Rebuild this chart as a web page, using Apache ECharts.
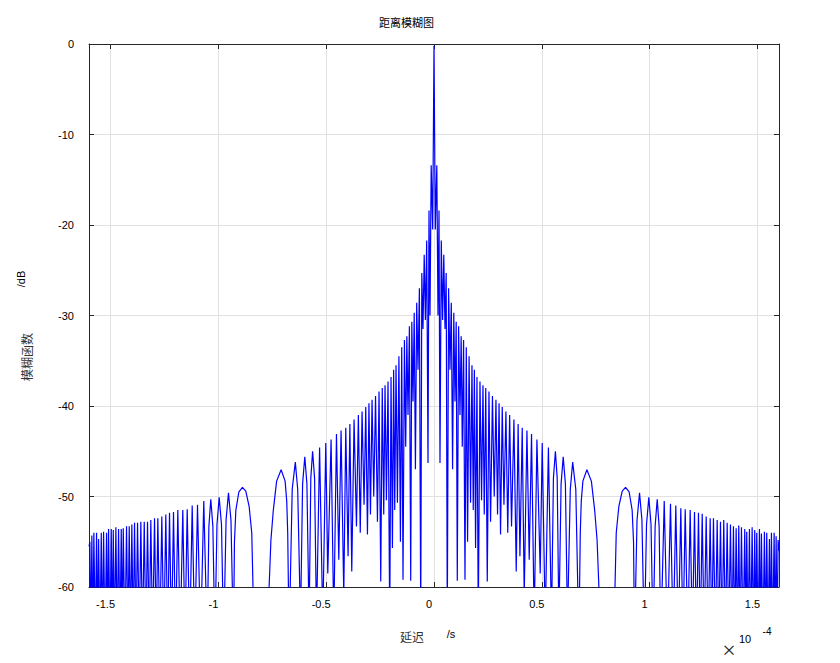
<!DOCTYPE html>
<html><head><meta charset="utf-8">
<script src="https://cdn.jsdelivr.net/npm/echarts@6/dist/echarts.min.js"></script>
<style>html,body{margin:0;padding:0;background:#fff}#c{width:840px;height:663px}</style>
</head><body><div id="c"></div>
<script>
const chartTitle = '距离模糊图';
const xName = '延迟';
const xUnit = '/s';
const yName = '模糊函数';
const yUnit = '/dB';
const xTicks = [-1.5, -1, -0.5, 0, 0.5, 1, 1.5];
const yTicks = [-60, -50, -40, -30, -20, -10, 0];

// delay (x 1e-4 s) and level (dB), from centre outwards, positive side
const delayPos = [0,0.0060,0.0130,0.0185,0.0232,0.0278,0.0338,0.0399,0.0454,0.0510,0.0565,0.0616,0.0677,0.0741,0.0802,0.0862,0.0918,0.0973,0.1029,0.1080,0.1140,0.1205,0.1260,0.1311,0.1372,0.1437,0.1497,0.1557,0.1627,0.1696,0.1761,0.1821,0.1872,0.1928,0.1993,0.2053,0.2132,0.2206,0.2271,0.2331,0.2400,0.2470,0.2549,0.2623,0.2711,0.2794,0.2873,0.2947,0.3017,0.3086,0.3165,0.3244,0.3336,0.3420,0.3508,0.3596,0.3707,0.3814,0.3902,0.3985,0.4092,0.4184,0.4310,0.4416,0.4523,0.4648,0.4773,0.4926,0.5019,0.5158,0.5306,0.5449,
0.5538,0.5630,0.5714,0.5792,0.5894,0.5992,0.6094,0.6191,0.6321,0.6432,0.6576,0.6719,0.6784,0.6830,0.6905,0.7090,0.7299,0.7451,0.7563,0.7655,0.7984,
0.8355,0.8452,0.8573,0.8730,0.8883,0.9050,0.9189,0.9254,0.9300,0.9416,0.9532,0.9643,0.9754,0.9856,0.9963,1.0065,1.0162,1.0255,1.0352,1.0440,1.0519,
1.0677,1.0825,1.0968,1.1094,1.1214,1.1330,1.1446,1.1548,1.1650,1.1770,1.1881,1.1983,1.2081,1.2173,1.2266,1.2349,1.2438,1.2530,1.2623,1.2715,1.2808,1.2882,1.2961,1.3049,1.3133,1.3207,1.3286,1.3360,1.3438,1.3517,1.3596,1.3670,1.3749,1.3818,1.3888,1.3948,1.4013,1.4073,1.4134,1.4194,1.4259,1.4333,1.4412,1.4458,1.4504,1.4564,1.4629,1.4690,1.4754,1.4815,1.4875,1.4921,1.4968,1.5028,1.5093,1.5139,1.5185,1.5255,1.5324,1.5375,1.5431,1.5491,1.5556,1.5602,1.5649,1.5709,1.5774,1.5820,1.5867,1.5913,1.5959,1.6000];
const levelPos = [-0.2,-20.5,-13.4,-30,-18.4,-46.3,-21.7,-30.5,-23.3,-31.5,-25.3,-64,-27,-36,-28.6,-47,-29.7,-39.5,-30.7,-59.3,-31.2,-41,-32.3,-44.5,-32.7,-59.2,-33.5,-55,-34.5,-50.7,-35.5,-51.5,-36,-55.7,-36.8,-64,-37.3,-50.4,-37.7,-52,-38.0,-59.4,-38.4,-52.8,-38.9,-50,-39.3,-52,-39.7,-54.2,-40.1,-50.9,-40.6,-54,-41.0,-53.3,-41.5,-58.3,-42.0,-56.6,-42.4,-61,-42.7,-57,-43.1,-64,-43.7,-58.5,-44.1,-64,-44.6,-64,
-48,-45.0,-48,-64,-48.6,-45.6,-48.6,-64,-49.2,-46.2,-49.2,-66,-54,-50.5,-48.3,-47.05,-48.3,-51.5,-54.8,-60.5,-75,
-64,-54.0,-51.1,-49.4,-49.0,-49.5,-51.5,-55,-66,-52.6,-49.6,-52.6,-66,-53.1,-50.1,-53.1,-66,-53.3,-50.3,-53.3,-66,
-50.5,-66,-50.8,-66,-51.0,-66,-51.3,-66,-51.4,-66,-51.5,-66,-51.7,-66,-51.8,-66,-51.9,-66,-52.2,-66,-52.4,-66,-52.4,-66,-52.6,-66,-52.8,-66,-52.6,-66,-52.9,-66,-53.1,-66,-53.3,-66,-53.5,-66,-53.2,-66,-53.4,-66,-53.6,-66,-53.9,-66,-53.6,-66,-53.4,-66,-53.7,-66,-54.0,-66,-53.6,-66,-54.1,-66,-53.9,-66,-54.0,-66,-54.7,-66,-54.0,-66,-54.0,-66,-54.4,-66,-54.8,-56];

// negative side, from centre outwards
const delayNeg = [-0.0060,-0.0130,-0.0185,-0.0232,-0.0278,-0.0338,-0.0399,-0.0454,-0.0510,-0.0565,-0.0616,-0.0677,-0.0741,-0.0802,-0.0862,-0.0918,-0.0973,-0.1029,-0.1080,-0.1140,-0.1205,-0.1260,-0.1311,-0.1372,-0.1437,-0.1497,-0.1557,-0.1627,-0.1696,-0.1761,-0.1821,-0.1872,-0.1928,-0.1993,-0.2053,-0.2132,-0.2206,-0.2271,-0.2331,-0.2400,-0.2470,-0.2549,-0.2623,-0.2711,-0.2794,-0.2873,-0.2947,-0.3017,-0.3086,-0.3165,-0.3244,-0.3336,-0.3420,-0.3508,-0.3596,-0.3707,-0.3814,-0.3902,-0.3985,-0.4092,-0.4184,-0.4310,-0.4416,-0.4523,-0.4648,-0.4773,-0.4926,-0.5019,-0.5158,-0.5306,-0.5449,
-0.5538,-0.5630,-0.5714,-0.5792,-0.5894,-0.5992,-0.6094,-0.6191,-0.6321,-0.6432,-0.6576,-0.6719,-0.6784,-0.6830,-0.6905,-0.7090,-0.7299,-0.7451,-0.7563,-0.7655,-0.7984,
-0.8355,-0.8452,-0.8573,-0.8730,-0.8883,-0.9050,-0.9189,-0.9254,-0.9300,-0.9416,-0.9532,-0.9643,-0.9754,-0.9856,-0.9963,-1.0065,-1.0162,-1.0255,-1.0352,-1.0440,-1.0519,
-1.0677,-1.0825,-1.0968,-1.1094,-1.1214,-1.1330,-1.1446,-1.1548,-1.1650,-1.1770,-1.1881,-1.1983,-1.2081,-1.2173,-1.2266,-1.2349,-1.2438,-1.2530,-1.2623,-1.2715,-1.2808,-1.2882,-1.2961,-1.3049,-1.3133,-1.3207,-1.3286,-1.3360,-1.3438,-1.3517,-1.3596,-1.3670,-1.3749,-1.3818,-1.3888,-1.3948,-1.4013,-1.4073,-1.4134,-1.4194,-1.4259,-1.4333,-1.4412,-1.4458,-1.4504,-1.4564,-1.4629,-1.4690,-1.4754,-1.4815,-1.4875,-1.4921,-1.4968,-1.5028,-1.5093,-1.5139,-1.5185,-1.5255,-1.5324,-1.5375,-1.5431,-1.5491,-1.5556,-1.5602,-1.5649,-1.5709,-1.5774,-1.5820,-1.5867,-1.5913,-1.5959,-1.6000];
const levelNeg = [-20.5,-13.4,-30,-18.4,-46.3,-21.7,-30.5,-23.3,-31.5,-25.3,-64,-27,-36,-28.6,-47,-29.7,-39.5,-30.7,-59.3,-31.2,-41,-32.3,-44.5,-32.7,-59.2,-33.5,-55,-34.5,-50.7,-35.5,-51.5,-36,-55.7,-36.8,-64,-37.3,-50.4,-37.7,-52,-38.0,-59.4,-38.4,-52.8,-38.9,-50,-39.3,-52,-39.7,-54.2,-40.1,-50.9,-40.6,-54,-41.0,-53.3,-41.5,-58.3,-42.0,-56.6,-42.4,-61,-42.7,-57,-43.1,-64,-43.7,-58.5,-44.1,-64,-44.6,-64,
-48,-45.0,-48,-64,-48.6,-45.6,-48.6,-64,-49.2,-46.2,-49.2,-66,-54,-50.5,-48.3,-47.05,-48.3,-51.5,-54.8,-60.5,-75,
-64,-54.0,-51.1,-49.4,-49.0,-49.5,-51.5,-55,-66,-52.6,-49.6,-52.6,-66,-53.1,-50.1,-53.1,-66,-53.3,-50.3,-53.3,-66,
-50.5,-66,-50.9,-66,-51.0,-66,-51.4,-66,-51.5,-66,-51.5,-66,-51.7,-66,-51.8,-66,-52.0,-66,-52.2,-66,-52.4,-66,-52.4,-66,-52.6,-66,-52.8,-66,-52.8,-66,-52.8,-66,-52.9,-66,-52.9,-66,-53.1,-66,-53.3,-66,-53.3,-66,-53.5,-66,-53.6,-66,-53.6,-66,-53.4,-66,-53.7,-66,-53.6,-66,-53.6,-66,-54.0,-66,-53.9,-66,-54.0,-66,-54.7,-66,-54.0,-66,-54.0,-66,-54.3,-66,-55.0,-55.5];

const data = [];
const nNeg = Math.min(delayNeg.length, levelNeg.length);
for (let i = nNeg - 1; i >= 0; i--) data.push([delayNeg[i], levelNeg[i]]);
const nPos = Math.min(delayPos.length, levelPos.length);
for (let i = 0; i < nPos; i++) data.push([delayPos[i], levelPos[i]]);

const chart = echarts.init(document.getElementById('c'), null, {renderer: 'svg'});
const axisColor = '#262626';
const gridColor = '#e1e1e1';
const latin = '"Liberation Sans", Arial, sans-serif';
const cjk = '"Noto Sans CJK SC", sans-serif';

function xAxisCfg(pos, showLabel) {
  return {
    type: 'value', min: -1.6, max: 1.6, position: pos,
    axisLine: {show: true, onZero: false, lineStyle: {color: axisColor, width: 1}},
    axisTick: {show: true, inside: true, length: 5, customValues: xTicks, lineStyle: {color: axisColor}},
    axisLabel: {show: showLabel, customValues: xTicks, formatter: v => String(v), color: '#000',
      fontSize: 11, fontFamily: latin, margin: 11, padding: [0, 10, 0, 0]},
    splitLine: {show: showLabel, lineStyle: {color: gridColor, width: 1}}
  };
}
function yAxisCfg(pos, showLabel) {
  return {
    type: 'value', min: -60, max: 0, interval: 10, position: pos,
    axisLine: {show: true, onZero: false, lineStyle: {color: axisColor, width: 1}},
    axisTick: {show: true, inside: true, length: 5, lineStyle: {color: axisColor}},
    axisLabel: {show: showLabel, formatter: v => String(v), color: '#000', fontSize: 11, fontFamily: latin, margin: 15},
    splitLine: {show: showLabel, lineStyle: {color: gridColor, width: 1}}
  };
}

chart.setOption({
  animation: false,
  backgroundColor: '#fff',
  title: {text: chartTitle, left: 379, top: 16, padding: 0,
    textStyle: {fontSize: 11, fontWeight: 'normal', color: '#000', fontFamily: cjk}},
  grid: {left: 89, right: 61, top: 44, bottom: 76, containLabel: false},
  xAxis: [xAxisCfg('bottom', true), xAxisCfg('top', false)],
  yAxis: [yAxisCfg('left', true), yAxisCfg('right', false)],
  series: [{
    type: 'line', data: data, xAxisIndex: 0, yAxisIndex: 0,
    showSymbol: false, symbol: 'none', clip: true, smooth: false,
    lineStyle: {color: '#0000ff', width: 1.2}
  }],
  graphic: [
    {type: 'text', x: 26, y: 357, rotation: Math.PI / 2,
      style: {text: yName, fill: '#333', font: '12px ' + cjk, align: 'center', verticalAlign: 'middle'}},
    {type: 'text', x: 21, y: 279, rotation: Math.PI / 2,
      style: {text: yUnit, fill: '#000', font: '11px ' + latin, align: 'center', verticalAlign: 'middle'}},
    {type: 'text', x: 412, y: 636,
      style: {text: xName, fill: '#333', font: '12px ' + cjk, align: 'center', verticalAlign: 'middle'}},
    {type: 'text', x: 451, y: 634,
      style: {text: xUnit, fill: '#000', font: '11px ' + latin, align: 'center', verticalAlign: 'middle'}},
    {type: 'text', x: 729, y: 650,
      style: {text: '×', fill: '#222', font: '24px "Liberation Serif", serif', align: 'center', verticalAlign: 'middle'}},
    {type: 'text', x: 745, y: 639,
      style: {text: '10', fill: '#000', font: '11px ' + latin, align: 'center', verticalAlign: 'middle'}},
    {type: 'text', x: 767, y: 631,
      style: {text: '-4', fill: '#000', font: '10px ' + latin, align: 'center', verticalAlign: 'middle'}}
  ]
});
</script></body></html>
